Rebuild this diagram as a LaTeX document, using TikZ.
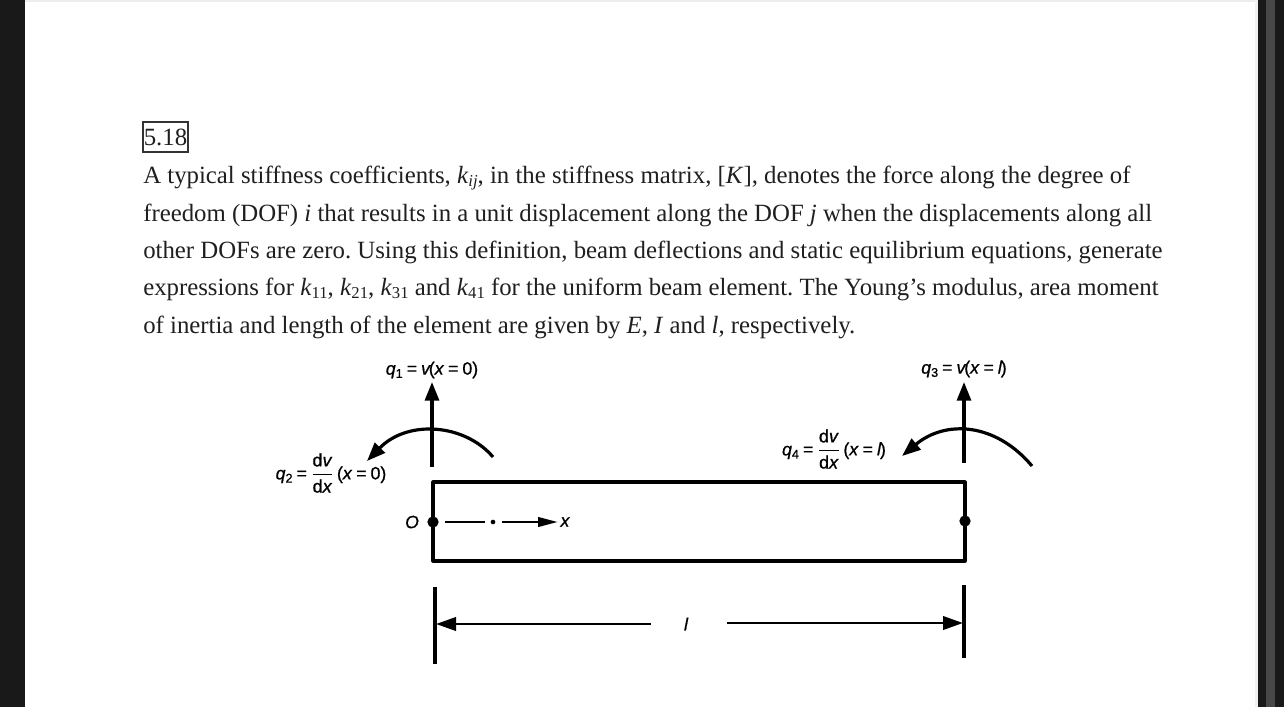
\documentclass[tikz,border=0pt]{standalone}
\usepackage{fontspec}
\usepackage{amsmath}
\setmainfont{Liberation Serif}
\setsansfont{Liberation Sans}
\newfontfamily\labf{Liberation Sans}[FakeBold=0.8]
\usetikzlibrary{arrows.meta,calc}
\frenchspacing
\newcommand{\ksub}[1]{\textit{k}\raisebox{-0.25ex}{\fontsize{12.5pt}{14pt}\selectfont #1}}
\newcommand{\qsub}[1]{\textit{q}\raisebox{-0.35ex}{\fontsize{9.5pt}{10pt}\selectfont #1}}
\newcommand{\eqs}{\kern3pt=\kern3pt}
\newcommand{\dvdx}{\ensuremath{\dfrac{\mbox{\fontsize{13.5pt}{14pt}\labf d\textit{v}}}{\mbox{\fontsize{13.5pt}{14pt}\labf d\textit{x}}}}}
\begin{document}
\begin{tikzpicture}[x=0.75pt,y=-0.75pt,
  para/.style={anchor=base west,inner sep=0pt,font=\fontsize{18.6pt}{22pt}\selectfont,text=black!88},
  lab/.style={inner sep=0pt,font=\fontsize{13.3pt}{14pt}\selectfont\labf},
  force/.style={line width=2.4pt,-{Triangle[length=14pt,width=10.5pt]}},
  beam/.style={line width=2.35pt,line cap=round,line join=round},
  thin tail/.style={line width=2.1pt},
  dot/.style={circle,fill=black,inner sep=0pt,minimum size=8.5pt}]
\useasboundingbox (0,0) rectangle (1284,707);
\fill[white] (0,0) rectangle (1284,707);
\fill[black!7] (25,0) rectangle (1258,2);
\fill[black!5] (1255,0) rectangle (1258,707);
\fill[black!90] (0,0) rectangle (25,707);
\fill[black!90] (1258,0) rectangle (1284,707);
\fill[black!72] (1266,0) rectangle (1275,707);

\node[draw=black!80,line width=0.8pt,inner sep=0pt,minimum width=33.75pt,minimum height=22.5pt,font=\fontsize{18.6pt}{22pt}\selectfont,text=black!88] (num) at (165.5,137) {5.18};
\node[para] (l1) at (143,183.5) {A typical stiffness coefficients, \ksub{\textit{ij}}, in the stiffness matrix, [\textit{K}], denotes the force along the degree of};
\node[para] (l2) at (143,221) {freedom (DOF) \textit{i} that results in a unit displacement along the DOF \textit{j} when the displacements along all};
\node[para] (l3) at (143,258.5) {other DOFs are zero. Using this definition, beam deflections and static equilibrium equations, generate};
\node[para] (l4) at (143,295.5) {expressions for \ksub{11}, \ksub{21}, \ksub{31} and \ksub{41} for the uniform beam element. The Young’s modulus, area moment};
\node[para] (l5) at (143,333.5) {of inertia and length of the element are given by \textit{E}, \textit{I} and \textit{l}, respectively.};

\node[lab] (q1) at (432,370) {\qsub{1}\eqs\textit{v}\kern-1.5pt(\textit{x}\eqs 0)};
\node[lab] (q3) at (964,369) {\qsub{3}\eqs\textit{v}\kern-1.5pt(\textit{x}\eqs\textit{l}\kern-1pt)};
\node[lab] (q2) at (331,473) {\qsub{2}\eqs\dvdx\,(\textit{x}\eqs 0)};
\node[lab] (q4) at (834,449) {\qsub{4}\eqs\dvdx\,(\textit{x}\eqs\textit{l}\kern-1pt)};
\node[lab,font=\fontsize{13.3pt}{14pt}\selectfont\labf\itshape] (o) at (412,522) {O};
\node[lab,font=\fontsize{13.3pt}{14pt}\selectfont\labf\itshape] (x) at (565,522) {x};
\node[lab,font=\fontsize{13.3pt}{14pt}\selectfont\labf\itshape] (ell) at (686,624) {l};

\coordinate (tl) at (433,482); \coordinate (tr) at (965,482);
\coordinate (br) at (965,561); \coordinate (bl) at (433,561);
\draw[beam] (tl) -- (tr) -- (br) -- (bl) -- cycle;
\node[dot] (d0) at (433,522) {};
\node[dot] (d1) at (965,521) {};

\coordinate (a1s) at (432,467); \coordinate (a1e) at (432,382);
\coordinate (a3s) at (964,463); \coordinate (a3e) at (964,382);
\draw[force] (a1s) -- (a1e);
\draw[force] (a3s) -- (a3e);
\coordinate (r1s) at (493,457); \coordinate (r1e) at (367,461);
\coordinate (r3s) at (1032,466); \coordinate (r3e) at (902,456);
\draw[force] (r1s) .. controls (465,424) and (408,419) .. (r1e);
\draw[force] (r3s) .. controls (995,422) and (945,420) .. (r3e);

\coordinate (c1) at (445,522); \coordinate (c2) at (485,522);
\coordinate (c3) at (502,522); \coordinate (c4) at (558,522);
\draw[thin tail] (c1) -- (c2);
\node[circle,fill=black,inner sep=0pt,minimum size=3.5pt] (c0) at (493,522) {};
\draw[thin tail,-{Triangle[length=15pt,width=7pt]}] (c3) -- (c4);

\coordinate (b1t) at (435,587); \coordinate (b1b) at (435,664);
\coordinate (b2t) at (964,585); \coordinate (b2b) at (964,658);
\draw[line width=2.35pt] (b1t) -- (b1b);
\draw[line width=2.35pt] (b2t) -- (b2b);
\coordinate (m1) at (651,624); \coordinate (m2) at (727,623);
\draw[thin tail,-{Triangle[length=15pt,width=10pt]}] (m1) -- (436,624);
\draw[thin tail,-{Triangle[length=15pt,width=10pt]}] (m2) -- (963,623);
\end{tikzpicture}
\end{document}
